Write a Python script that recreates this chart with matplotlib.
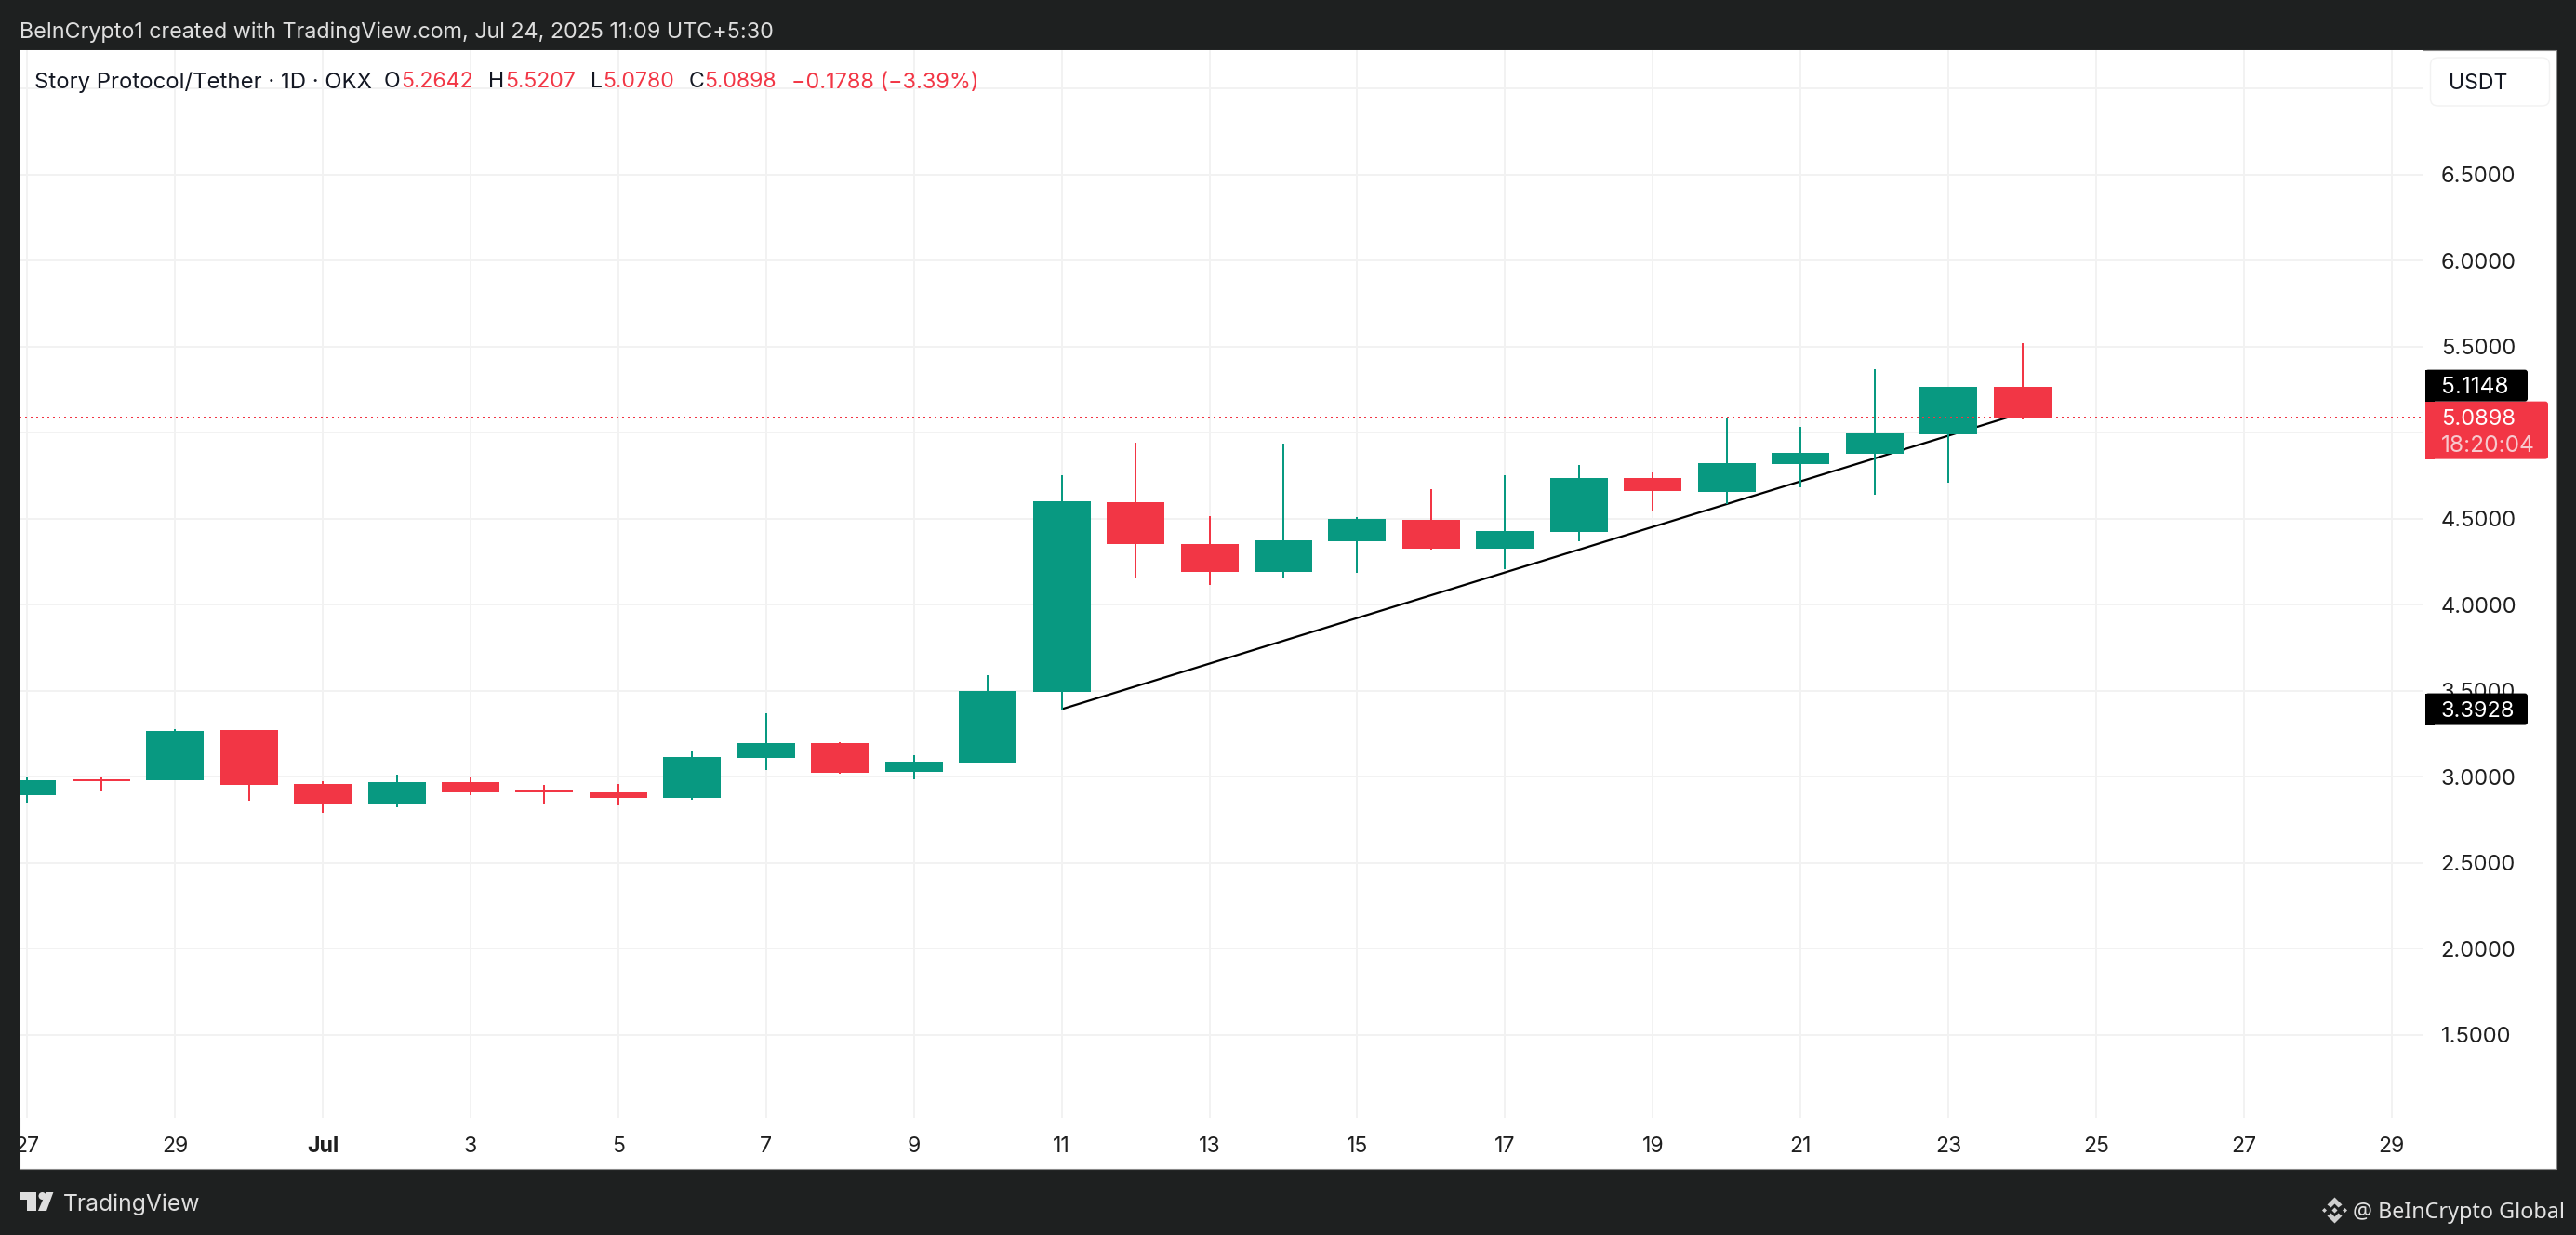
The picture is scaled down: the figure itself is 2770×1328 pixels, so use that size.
import matplotlib
matplotlib.use("Agg")
import matplotlib.pyplot as plt
from matplotlib.patches import Rectangle, FancyBboxPatch, Polygon, Circle
from matplotlib.transforms import Affine2D

W, H = 2770, 1328
DPI = 100

# candles, Jun 27 to Jul 24 2025
opens = [2.893, 2.985, 2.979, 3.271, 2.958, 2.839, 2.969, 2.920, 2.909, 2.877,
         3.109, 3.196, 3.028, 3.082, 3.493, 4.596, 4.352, 4.190, 4.369, 4.493,
         4.325, 4.423, 4.736, 4.655, 4.817, 4.877, 4.990, 5.2642]
highs = [3.001, 2.996, 3.277, 3.271, 2.974, 3.012, 3.001, 2.952, 2.958, 3.147,
         3.369, 3.201, 3.125, 3.590, 4.752, 4.942, 4.515, 4.936, 4.509, 4.671,
         4.752, 4.812, 4.769, 5.088, 5.034, 5.369, 5.266, 5.5207]
lows = [2.844, 2.915, 2.979, 2.860, 2.790, 2.823, 2.893, 2.839, 2.833, 2.866,
        3.039, 3.017, 2.985, 3.082, 3.3928, 4.158, 4.115, 4.158, 4.185, 4.320,
        4.206, 4.369, 4.542, 4.585, 4.682, 4.639, 4.709, 5.0780]
closes = [2.979, 2.974, 3.266, 2.952, 2.839, 2.969, 2.909, 2.909, 2.877, 3.115,
          3.196, 3.023, 3.088, 3.498, 4.601, 4.352, 4.190, 4.374, 4.498, 4.325,
          4.428, 4.736, 4.660, 4.823, 4.882, 4.996, 5.266, 5.0898]

price_ticks = [1.5, 2.0, 2.5, 3.0, 3.5, 4.0, 4.5, 5.0, 5.5, 6.0, 6.5, 7.0]
price_labels = ["1.5000", "2.0000", "2.5000", "3.0000", "3.5000", "4.0000", "4.5000",
                "5.0000", "5.5000", "6.0000", "6.5000", ""]
date_ticks = list(range(0, 33, 2))
date_labels = ["27", "29", "Jul", "3", "5", "7", "9", "11", "13", "15", "17", "19",
               "21", "23", "25", "27", "29"]

# trend line, candle index and price
trend_x = [14, 27]
trend_y = [3.3928, 5.1148]
last_price = 5.0898

GREEN = "#089981"
RED = "#F23645"
DARK = "#1E2020"
TEXT = "#1F1F1F"
GRID = "#F2F2F2"

plt.rcParams["font.family"] = ["Inter", "DejaVu Sans"]

fig = plt.figure(figsize=(W / DPI, H / DPI), dpi=DPI, facecolor=DARK)
to_px = Affine2D().scale(1, -1).translate(0, H)


def put(patch, z=5):
    patch.set_transform(to_px)
    patch.set_zorder(z)
    fig.add_artist(patch)


def label(x, y, s, color=TEXT, size=17.0, ha="left", va="baseline", **kw):
    fig.text(x / W, 1 - y / H, s, color=color, fontsize=size, ha=ha, va=va, zorder=6, **kw)


# white panel behind the chart
put(Rectangle((20.7, 54), 2749 - 20.7, 1257 - 54, fc="white", ec="#8A8A8A", lw=0.8), z=-1)

ax = fig.add_axes([20.7 / W, 1 - 1201.7 / H, (2606 - 20.7) / W, (1201.7 - 54) / H])
ax.set_facecolor("white")
ax.set_xlim(-0.108, 32.43)
ax.set_ylim(1.019, 7.223)
for s in ax.spines.values():
    s.set_visible(False)

ax.set_axisbelow(True)
ax.grid(True, color=GRID, lw=1.4)
ax.yaxis.tick_right()
ax.set_yticks(price_ticks)
ax.set_yticklabels(price_labels, fontsize=17.0, color=TEXT)
ax.set_xticks(date_ticks)
ax.set_xticklabels(date_labels, fontsize=16.6, color=TEXT)
ax.get_xticklabels()[2].set_fontweight("bold")
ax.tick_params(axis="both", length=0)
ax.tick_params(axis="y", pad=13.5)
ax.tick_params(axis="x", pad=14.8)

ax.plot(trend_x, trend_y, color="black", lw=1.6, zorder=2, solid_capstyle="butt")

x = range(len(opens))
colors = [GREEN if c >= o else RED for o, c in zip(opens, closes)]
ax.vlines(x, lows, highs, colors=colors, lw=1.44, zorder=3)
ax.bar(x, [abs(c - o) for o, c in zip(opens, closes)], bottom=[min(o, c) for o, c in zip(opens, closes)],
       width=0.78, color=colors, lw=0, zorder=3)

ax.axhline(last_price, color=RED, lw=1.44, ls=(0, (1, 2)), zorder=4)

# left edge of the dark frame cuts the first date label
put(Rectangle((0, 54), 20.7, 1257 - 54, fc=DARK, ec="none"), z=4)


def price_y(v):
    return H - ax.transData.transform((0, v))[1]


def tag(top, height, right, color):
    put(FancyBboxPatch((2608, top), right - 2608, height, boxstyle="round,pad=0,rounding_size=3",
                       fc=color, ec="none", mutation_aspect=1))
    put(Rectangle((2608, top), 10, height, fc=color, ec="none"))


py = price_y(last_price)
tag(py - 17, 62, 2740, RED)
tag(py - 51, 34, 2718, "black")
label(2625, py + 8.5, "5.0898", color="white")
label(2625, py + 37, "18:20:04", color="#F7C9CE", size=17.6)
label(2625, py - 25.5, "5.1148", color="white", size=17.6)

py = price_y(trend_y[0])
tag(py - 17, 34, 2718, "black")
label(2625, py + 8.5, "3.3928", color="white")

# currency button
put(FancyBboxPatch((2613.5, 62), 128, 52, boxstyle="round,pad=0,rounding_size=8", fc="white", ec=GRID, lw=1))
label(2633, 95.5, "USDT", color="#131722", size=16.6)

# header lines
label(21, 41, "BeInCrypto1 created with TradingView.com, Jul 24, 2025 11:09 UTC+5:30", color="#DEDEDE", size=16.8)
label(36.7, 94.5, "Story Protocol/Tether · 1D · OKX", color="#131722", size=17.2)
label(413, 94.5, "O", color="#131722", size=16.6)
label(431, 94.5, "5.2642", color=RED, size=16.6)
label(525, 94.5, "H", color="#131722", size=16.6)
label(543, 94.5, "5.5207", color=RED, size=16.6)
label(635, 94.5, "L", color="#131722", size=16.6)
label(648, 94.5, "5.0780", color=RED, size=16.6)
label(741, 94.5, "C", color="#131722", size=16.6)
label(757, 94.5, "5.0898", color=RED, size=16.6)
label(851, 94.5, "−0.1788 (−3.39%)", color=RED, size=16.9)

# footer, TradingView mark
LOGO = "#DEDEDE"
put(Polygon([(20.7, 1282), (39, 1282), (39, 1302), (29, 1302), (29, 1290), (20.7, 1290)], fc=LOGO, ec="none"))
put(Circle((45.5, 1286), 4, fc=LOGO, ec="none"))
put(Polygon([(49.5, 1282), (57.4, 1282), (50, 1302), (41, 1302)], fc=LOGO, ec="none"))
label(68, 1302, "TradingView", color=LOGO, size=17.8)

# footer, BeInCrypto mark
MARK = "#CFCFCF"
cx, cy = 2510.5, 1301.5
put(Polygon([(cx, cy - 14), (cx + 8, cy - 6), (cx + 4, cy - 3), (cx, cy - 7), (cx - 4, cy - 3), (cx - 8, cy - 6)], fc=MARK, ec="none"))
put(Polygon([(cx, cy + 14), (cx + 8, cy + 6), (cx + 4, cy + 3), (cx, cy + 7), (cx - 4, cy + 3), (cx - 8, cy + 6)], fc=MARK, ec="none"))
put(Polygon([(cx, cy - 3), (cx + 3, cy), (cx, cy + 3), (cx - 3, cy)], fc=MARK, ec="none"))
put(Polygon([(cx - 11, cy - 2.5), (cx - 8.5, cy), (cx - 11, cy + 2.5), (cx - 13.5, cy)], fc=MARK, ec="none"))
put(Polygon([(cx + 11, cy - 2.5), (cx + 13.5, cy), (cx + 11, cy + 2.5), (cx + 8.5, cy)], fc=MARK, ec="none"))
label(2530, 1310, "@ BeInCrypto Global", color="#E2E2E2", size=16.8, family=["Noto Sans", "DejaVu Sans"])

fig.savefig("out.png", dpi=DPI, facecolor=DARK)
